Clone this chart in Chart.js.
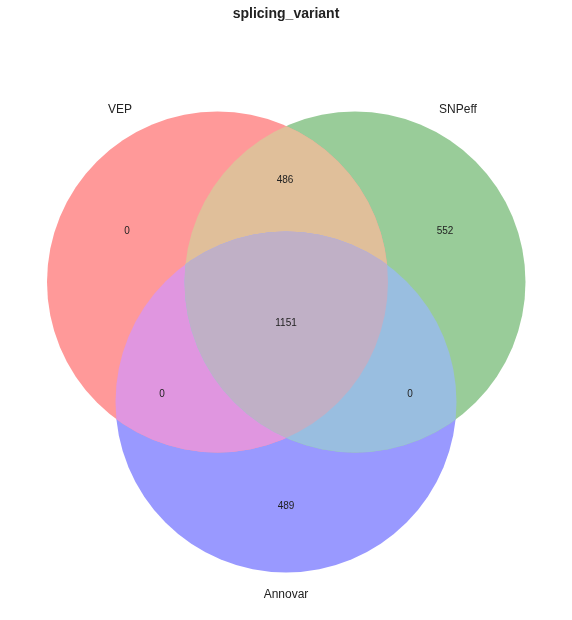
<!DOCTYPE html>
<html><head><meta charset="utf-8">
<script src="https://cdn.jsdelivr.net/npm/chart.js@4"></script>
<style>html,body{margin:0;padding:0;background:#fff}</style>
</head><body>
<canvas id="c" width="572" height="620"></canvas>
<script>
const setNames = ["VEP", "SNPeff", "Annovar"];
const setColors = ["#ff9999", "#99cc99", "#9999ff"];
const circleX = [217.5, 355, 286];
const circleY = [282, 282, 402];
const circleR = [170.5, 170.5, 170.5];
const setLabelX = [120, 458, 286];
const setLabelY = [110, 110, 595];
const overlapSets = [[0, 1], [0, 2], [1, 2], [0, 1, 2]];
const overlapColors = ["#e0bf9a", "#e096e0", "#99bee0", "#c0b0c6"];
const regionCounts = [0, 486, 552, 1151, 0, 0, 489];
const regionX = [127, 285, 445, 286, 162, 410, 286];
const regionY = [231, 180, 231, 323, 394, 394, 506];
const title = "splicing_variant";

// circles may extend past the canvas; no extra padding for bubble radius
Chart.controllers.bubble.prototype.getMaxOverflow = function () { return 0; };

const textPlugin = {
  id: 'vennText',
  afterDatasetsDraw(chart) {
    const ctx = chart.ctx, xs = chart.scales.x, ys = chart.scales.y;
    ctx.save();
    overlapSets.forEach((sets, k) => {
      ctx.save();
      sets.forEach(i => {
        const el = chart.getDatasetMeta(i).data[0];
        ctx.beginPath();
        ctx.arc(el.x, el.y, el.options.radius, 0, Math.PI * 2);
        ctx.clip();
      });
      ctx.fillStyle = overlapColors[k];
      ctx.fillRect(0, 0, chart.width, chart.height);
      ctx.restore();
    });
    ctx.fillStyle = '#222';
    ctx.textAlign = 'center'; ctx.textBaseline = 'middle';
    ctx.font = '10px "Liberation Sans", Arial, sans-serif';
    regionCounts.forEach((v, i) => ctx.fillText(String(v), xs.getPixelForValue(regionX[i]), ys.getPixelForValue(regionY[i])));
    ctx.font = '12px "Liberation Sans", Arial, sans-serif';
    setNames.forEach((n, i) => ctx.fillText(n, xs.getPixelForValue(setLabelX[i]), ys.getPixelForValue(setLabelY[i])));
    ctx.font = 'bold 14px "Liberation Sans", Arial, sans-serif';
    ctx.fillText(title, xs.getPixelForValue(286), ys.getPixelForValue(14));
    ctx.restore();
  }
};

new Chart(document.getElementById('c'), {
  type: 'bubble',
  data: {
    datasets: setNames.map((n, i) => ({
      label: n,
      data: [{x: circleX[i], y: circleY[i], r: circleR[i]}],
      backgroundColor: setColors[i],
      borderWidth: 0,
      hoverRadius: 0
    }))
  },
  options: {
    responsive: false, animation: false,
    events: [],
    layout: {padding: 0},
    clip: false,
    plugins: {legend: {display: false}, tooltip: {enabled: false}, title: {display: false}},
    scales: {
      x: {type: 'linear', min: 0, max: 572, display: false},
      y: {type: 'linear', min: 0, max: 620, reverse: true, display: false}
    }
  },
  plugins: [textPlugin]
});
</script>
</body></html>
